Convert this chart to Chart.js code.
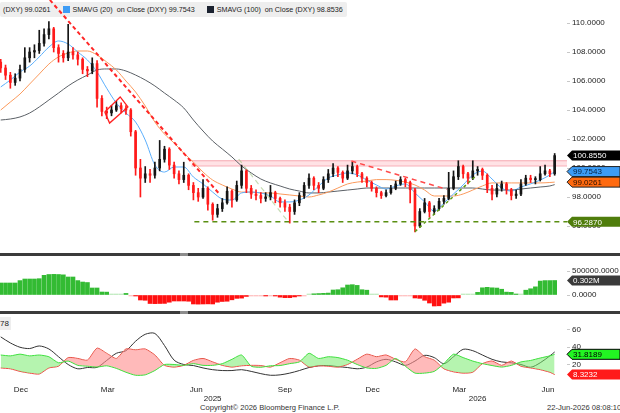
<!DOCTYPE html>
<html>
<head>
<meta charset="utf-8">
<script src="https://cdn.jsdelivr.net/npm/chart.js@4.4.1/dist/chart.umd.min.js"></script>
<style>
  html, body { margin: 0; padding: 0; background: #fff; }
  body { width: 620px; height: 413px; position: relative; overflow: hidden;
         font-family: "Liberation Sans", Arial, sans-serif; color: #222; }
  .pane { position: absolute; left: 0; width: 620px; z-index: 1; }
  canvas { display: block; }
  #legend { position: absolute; left: 0; top: 2px; height: 15px; padding: 0 4px 0 3px; background: #eeeeee;
            border-radius: 2px; font-size: 7.2px; line-height: 15px; white-space: nowrap; z-index: 0;
            display: flex; align-items: center; }
  #legend .sq { display: inline-block; width: 7px; height: 7px; margin: 0 3px 0 0; }
  #legend .gap { display: inline-block; width: 12px; }
  .sep { position: absolute; left: 0; width: 620px; height: 3px; background: #3b3b3b; z-index: 3; }
  .grip { position: absolute; left: 180px; top: 0; width: 8px; height: 3px; background: #8c8c8c; }
  #dmiLegend { position: absolute; left: 0; top: 317px; width: 11px; height: 13px; background: #eeeeee;
               font-size: 8px; line-height: 13px; z-index: 2; }
  .foot { position: absolute; top: 403px; font-size: 7.6px; line-height: 10px; white-space: nowrap; color: #333; }
</style>
</head>
<body>
<div id="legend">
  <span>(DXY) <span id="v50"></span></span>
  <span class="gap"></span><span class="sq" style="background:#3d9cf5"></span>
  <span>SMAVG (20)&nbsp; on Close (DXY) <span id="v20"></span></span>
  <span class="gap"></span><span class="sq" style="background:#1b2230"></span>
  <span>SMAVG (100)&nbsp; on Close (DXY) <span id="v100"></span></span>
</div>
<div class="pane" style="top:0;height:256px"><canvas id="price" width="620" height="256"></canvas></div>
<div class="pane" style="top:256px;height:57px"><canvas id="hist" width="620" height="57"></canvas></div>
<div class="pane" style="top:313px;height:100px"><canvas id="dmi" width="620" height="100"></canvas></div>
<div class="sep" style="top:253px"><div class="grip"></div></div>
<div class="sep" style="top:311px"><div class="grip"></div></div>
<div id="dmiLegend">78</div>
<div class="foot" style="left:200px">Copyright© 2026 Bloomberg Finance L.P.</div>
<div class="foot" style="left:547px">22-Jun-2026 08:08:10</div>

<script>
// ---- data ----
const startDate = '2024-11-22';
const candleStart = '2024-11-24';
const candleStepDays = 5;

const open = [
  107.3, 106.9, 106.4, 105.9, 106.2, 106.8, 107.6, 108.0, 108.1, 108.6,
  109.2, 109.6, 108.3, 107.9, 107.6, 108.0, 107.8, 107.5, 106.8, 106.7,
  107.2, 104.8, 103.9, 103.8, 104.0, 104.3, 104.1, 104.0, 102.5, 100.0,
  99.3, 99.6, 99.5, 100.0, 100.6, 101.3, 100.2, 99.6, 99.2, 99.5,
  98.8, 98.3, 98.0, 98.6, 97.5, 96.8, 97.2, 97.6, 98.4, 97.8,
  98.8, 99.8, 98.6, 98.2, 98.1, 97.9, 98.0, 98.3, 97.9, 97.6,
  97.3, 97.0, 97.6, 98.1, 98.8, 99.3, 98.8, 98.6, 99.2, 99.6,
  100.0, 99.7, 99.3, 99.8, 100.1, 99.6, 99.3, 99.0, 98.6, 98.3,
  98.1, 98.3, 98.6, 98.9, 99.2, 99.0, 98.5, 96.0, 97.0, 97.6,
  97.0, 97.2, 97.7, 97.9, 98.6, 99.4, 100.1, 99.6, 99.3, 99.8,
  99.9, 99.5, 98.6, 98.2, 98.6, 98.9, 98.5, 98.1, 98.2, 98.9,
  99.3, 99.2, 99.2, 99.6, 99.8, 99.6
];
const high = [
  107.5, 107.1, 106.6, 106.5, 107.1, 108.3, 108.3, 108.5, 109.5, 109.6,
  110.1, 109.7, 108.5, 108.1, 109.9, 108.3, 108.0, 107.6, 107.0, 107.6,
  107.4, 105.0, 104.2, 104.3, 104.6, 104.5, 104.3, 104.1, 102.6, 100.6,
  100.1, 99.9, 100.4, 101.9, 101.5, 101.4, 100.4, 99.8, 100.4, 99.6,
  99.0, 98.6, 99.2, 98.7, 97.6, 97.5, 97.9, 98.7, 98.5, 99.1,
  100.2, 99.9, 98.8, 98.5, 98.3, 98.3, 98.8, 98.4, 98.0, 97.8,
  97.5, 97.8, 98.3, 99.0, 99.6, 99.4, 99.0, 99.4, 99.9, 100.3,
  100.1, 99.8, 100.2, 100.4, 100.2, 99.7, 99.4, 99.1, 98.7, 98.4,
  98.5, 98.8, 99.1, 99.4, 99.3, 99.1, 98.6, 97.2, 97.9, 97.7,
  97.4, 97.9, 98.1, 99.7, 99.8, 100.5, 100.2, 99.7, 100.5, 100.1,
  100.0, 99.6, 98.8, 98.9, 99.1, 99.0, 98.6, 98.5, 99.2, 99.5,
  99.5, 99.4, 100.1, 100.2, 99.9, 101.0
];
const low = [
  106.6, 106.1, 105.5, 105.7, 106.0, 106.6, 107.3, 107.6, 107.9, 108.4,
  108.9, 108.0, 107.3, 107.3, 107.4, 107.5, 107.1, 106.5, 106.3, 106.5,
  104.2, 103.6, 103.4, 103.6, 103.9, 103.8, 103.7, 102.2, 99.5, 98.0,
  99.0, 99.0, 99.3, 99.8, 100.4, 99.9, 99.3, 98.9, 99.0, 98.5,
  97.8, 97.7, 97.9, 97.1, 96.4, 96.6, 97.0, 97.5, 97.3, 97.7,
  98.6, 98.3, 97.9, 97.8, 97.6, 97.7, 97.8, 97.6, 97.3, 97.0,
  96.2, 96.8, 97.4, 97.9, 98.6, 98.5, 98.3, 98.5, 99.0, 99.4,
  99.4, 99.0, 99.2, 99.6, 99.4, 99.0, 98.7, 98.4, 98.0, 97.9,
  98.0, 98.2, 98.5, 98.8, 98.7, 97.6, 95.6, 95.9, 96.9, 96.6,
  96.8, 97.1, 97.5, 97.8, 98.5, 99.2, 99.3, 98.9, 99.2, 99.5,
  99.2, 98.3, 97.8, 98.0, 98.4, 98.2, 97.8, 97.9, 98.1, 98.8,
  99.0, 98.9, 99.1, 99.5, 99.4, 99.5
];
const close = [
  106.9, 106.4, 105.9, 106.2, 106.8, 107.6, 108.0, 108.1, 108.6, 109.2,
  109.6, 108.3, 107.9, 107.6, 108.0, 107.8, 107.5, 106.8, 106.7, 107.2,
  104.8, 103.9, 103.8, 104.0, 104.3, 104.1, 104.0, 102.5, 100.0, 99.3,
  99.6, 99.5, 100.0, 100.6, 101.3, 100.2, 99.6, 99.2, 99.5, 98.8,
  98.3, 98.0, 98.6, 97.5, 96.8, 97.2, 97.6, 98.4, 97.8, 98.8,
  99.8, 98.6, 98.2, 98.1, 97.9, 98.0, 98.3, 97.9, 97.6, 97.3,
  97.0, 97.6, 98.1, 98.8, 99.3, 98.8, 98.6, 99.2, 99.6, 100.0,
  99.7, 99.3, 99.8, 100.1, 99.6, 99.3, 99.0, 98.6, 98.3, 98.1,
  98.3, 98.6, 98.9, 99.2, 99.0, 98.5, 96.0, 97.0, 97.6, 97.0,
  97.2, 97.7, 97.9, 98.6, 99.4, 100.1, 99.6, 99.3, 99.8, 99.9,
  99.5, 98.6, 98.2, 98.6, 98.9, 98.5, 98.1, 98.2, 98.9, 99.3,
  99.2, 99.2, 99.6, 99.8, 99.6, 100.855
];

// volume-style histogram, thousands, same dates as the candles
const histK = [
  250, 250, 250, 250, 300, 333, 333, 333, 340, 410,
  427, 430, 427, 420, 375, 375, 300, 270, 260, 146,
  146, 62, 60, 5, 5, 8, 33, -8, -15, -104,
  -110, -177, -180, -177, -175, -150, -125, -125, -125, -130,
  -187, -190, -187, -185, -187, -150, -135, -130, -100, -70,
  -65, -30, -10, -8, -10, -12, -10, -15, -45, -55,
  -55, -40, -15, -10, 5, 25, 30, 35, 40, 104,
  110, 150, 208, 215, 200, 110, 100, 10, 3, -40,
  -45, -104, -104, -8, -5, -5, -62, -70, -110, -167,
  -229, -225, -170, -150, -62, -60, 5, 5, 8, 55,
  150, 160, 150, 145, 120, 60, 55, 20, 10, 100,
  130, 170, 290, 300, 300, 302
];

// moving averages and DMI, every 10 days, last point on the last date
const lineStart = '2024-11-24';
const lineStepDays = 10;
const lastDate = '2026-06-22';

const sma20 = [
  105.59, 106.07, 106.62, 107.03, 107.66, 108.34, 108.76, 108.55, 108.0, 107.45,
  106.62, 105.5, 104.48, 103.79, 103.17, 101.93, 100.21, 99.72, 100.07, 100.07,
  99.38, 98.9, 98.34, 97.86, 97.79, 98.28, 98.34, 98.28, 98.07, 97.66,
  97.66, 97.79, 98.14, 98.76, 99.31, 99.52, 99.66, 99.52, 99.17, 98.83,
  98.55, 98.76, 98.9, 98.28, 97.66, 97.03, 97.59, 98.21, 98.83, 99.52,
  99.79, 99.24, 98.62, 98.41, 98.69, 98.9, 99.17, 99.52, 99.7543
];
const sma50 = [
  104.0, 104.55, 105.1, 105.79, 106.48, 107.17, 107.66, 107.93, 108.07, 108.07,
  107.79, 107.31, 106.76, 106.0, 105.24, 104.28, 103.17, 102.34, 101.72, 101.03,
  100.41, 99.72, 99.17, 98.83, 98.55, 98.34, 98.34, 98.28, 98.28, 98.21,
  98.14, 98.07, 98.0, 98.14, 98.34, 98.62, 98.9, 99.03, 99.1, 99.2,
  99.2, 99.15, 99.03, 98.83, 98.48, 98.07, 98.07, 98.07, 98.21, 98.48,
  98.76, 98.97, 98.97, 98.97, 98.97, 98.97, 98.97, 99.0, 99.0261
];
const sma100 = [
  103.31, 103.38, 103.52, 103.79, 104.21, 104.69, 105.17, 105.66, 106.07, 106.41,
  106.76, 106.83, 106.83, 106.69, 106.41, 106.07, 105.66, 105.17, 104.69, 104.14,
  103.31, 102.55, 101.86, 101.31, 100.76, 100.14, 99.66, 99.24, 98.97, 98.76,
  98.55, 98.41, 98.28, 98.28, 98.34, 98.41, 98.48, 98.55, 98.62, 98.62,
  98.62, 98.62, 98.62, 98.62, 98.62, 98.62, 98.62, 98.62, 98.62, 98.62,
  98.55, 98.48, 98.48, 98.48, 98.55, 98.62, 98.69, 98.76, 98.8536
];
const dmiPlus = [
  31, 30, 32, 30, 31, 29, 22, 24, 19, 18,
  17, 18.5, 15.5, 11, 7.5, 8, 13, 20, 20, 19,
  21, 19, 19, 21, 26, 31, 18, 16.8, 18.5, 18.8,
  21, 23, 33, 27, 29, 28, 25, 20, 16, 15.5,
  19, 27, 18, 10, 10, 12, 21, 32, 28, 24,
  21, 18.8, 17, 19, 23, 24.7, 27.5, 30, 31.8189
];
const dmiMinus = [
  16, 15, 12, 10, 9, 16, 18, 28, 27, 25,
  39, 33, 27, 38, 37, 38, 31, 19, 17, 19,
  24.7, 27, 23, 19, 17, 18.5, 19, 18.8, 17, 22,
  27, 25, 17, 18.5, 18, 17, 20, 26, 32, 29,
  31, 26, 23, 38, 29, 25, 15, 11.5, 10, 11,
  21, 24, 19, 24, 18, 16, 14, 11, 8.3232
];
const adx = [
  52, 45, 40, 38.5, 41.5, 38, 29, 20, 15, 16.5,
  16.7, 24.7, 33, 36, 47, 55, 56, 42, 25, 20,
  18.8, 16, 14, 13, 13, 14, 12, 9.4, 7.5, 8,
  10, 13, 16.5, 18.5, 18.8, 17.5, 16.5, 15, 17, 23,
  26, 23, 19, 24, 30.6, 28, 21, 29, 37.6, 36,
  31, 26, 23, 22, 20, 16.8, 22, 30, 34.5
];

// drawn studies
const supportLevel = 96.287;
const resistanceZone = [100.14, 100.5];
const zoneStart = '2025-06-10';
const supportStart = '2025-06-13';
const chartEnd = '2026-07-05';
const trendDown1 = [['2025-01-14', 111.59], ['2025-07-08', 98.28]];
const trendDown2 = [['2025-11-23', 100.48], ['2026-03-02', 98.53]];
const trendUp = [['2026-01-28', 95.61], ['2026-04-02', 99.5]];
const channel = [['2025-07-29', 100.62], ['2025-09-17', 96.41]];
const wedge = [['2025-03-12', 103.86], ['2025-03-28', 104.90], ['2025-04-05', 104.21],
               ['2025-03-17', 103.10], ['2025-03-12', 103.86]];

// axis ticks
const priceTicks = [96, 98, 100, 102, 104, 106, 108, 110];
const histTicksK = [0, 500];
const dmiTicks = [20, 40, 60];
const monthTickDates = ['2024-12-15', '2025-03-15', '2025-06-15', '2025-09-15',
                        '2025-12-15', '2026-03-15', '2026-06-15'];
const monthTickLabels = ['Dec', 'Mar', 'Jun', 'Sep', 'Dec', 'Mar', 'Jun'];
const yearTickDates = ['2025-07-02', '2026-04-03'];
const yearTickLabels = ['2025', '2026'];

// ---- helpers ----
const DAY = 86400000;
function dayOf(s) { return (Date.parse(s) - Date.parse(startDate)) / DAY; }
const candleDays = close.map((_, i) => dayOf(candleStart) + candleStepDays * i);
const lineDays = sma20.map((_, j) => j === sma20.length - 1 ? dayOf(lastDate) : dayOf(lineStart) + lineStepDays * j);
function pts(pairs) { return pairs.map(p => ({ x: dayOf(p[0]), y: p[1] })); }
function series(vals) { return vals.map((v, j) => ({ x: lineDays[j], y: v })); }
const last = a => a[a.length - 1];

const xMin = 1.25, xMax = 589.8;

Chart.defaults.font.family = '"Liberation Sans", Arial, sans-serif';
Chart.defaults.font.size = 8;
Chart.defaults.color = '#222';
Chart.defaults.animation = false;

function drawTag(ctx, y, t) {
  const x0 = 567, x1 = 620, h = 10;
  ctx.save();
  ctx.beginPath();
  ctx.moveTo(x0, y);
  ctx.lineTo(x0 + 5, y - h / 2);
  ctx.lineTo(x1, y - h / 2);
  ctx.lineTo(x1, y + h / 2);
  ctx.lineTo(x0 + 5, y + h / 2);
  ctx.closePath();
  ctx.fillStyle = t.fill;
  ctx.fill();
  if (t.stroke) { ctx.strokeStyle = t.stroke; ctx.lineWidth = 1; ctx.stroke(); }
  ctx.fillStyle = t.color;
  ctx.font = '8px "Liberation Sans", Arial, sans-serif';
  ctx.textBaseline = 'middle';
  ctx.fillText(t.text, x0 + 6, y + 0.5);
  ctx.restore();
}
const tagPlugin = {
  id: 'tags',
  afterDraw(chart, args, opts) {
    const y = chart.scales.y;
    (opts.items || []).forEach(t => drawTag(chart.ctx, y.getPixelForValue(t.value), t));
  }
};

function rightAxis(min, max, tickValues, fmt) {
  return {
    position: 'right', min: min, max: max,
    afterFit: s => { s.width = 53; s.paddingTop = 0; s.paddingBottom = 0; },
    afterBuildTicks: s => { s.ticks = tickValues.map(v => ({ value: v })); },
    grid: { drawOnChartArea: false, drawTicks: true, tickLength: 3, color: '#c8c8c8' },
    border: { display: false },
    ticks: { padding: 2, callback: fmt, autoSkip: false }
  };
}
const hiddenX = { type: 'linear', min: xMin, max: xMax, offset: false, display: false };

function dashed(pairs, color, width, dash, order) {
  return { type: 'line', data: pts(pairs), borderColor: color, borderWidth: width,
           borderDash: dash, pointRadius: 0, order: order };
}
function maLine(vals, color) {
  return { type: 'line', data: series(vals), borderColor: color, borderWidth: 1,
           pointRadius: 0, cubicInterpolationMode: 'monotone', order: 3 };
}

document.getElementById('v50').textContent = last(sma50).toFixed(4);
document.getElementById('v20').textContent = last(sma20).toFixed(4);
document.getElementById('v100').textContent = last(sma100).toFixed(4);

// ---- price panel ----
const candleColor = close.map((c, i) => c >= open[i] ? '#151515' : '#ff1a1a');
const downLine = dashed(trendDown1, '#ff2626', 2, [4, 3], 0);
downLine.clip = { left: 0, top: 18, right: 0, bottom: 0 };   // runs up past the legend like the original

new Chart(document.getElementById('price'), {
  type: 'bar',
  data: {
    datasets: [
      downLine,
      dashed(trendDown2, '#ff4a4a', 1.5, [5, 4], 0),
      dashed(wedge, '#ff2020', 1.3, [], 0),
      dashed(trendUp, '#5f9a18', 1.5, [3, 3], 0),
      dashed(channel, 'rgba(160,195,130,0.6)', 1.2, [5, 4], 0),
      dashed([[supportStart, supportLevel], [chartEnd, supportLevel]], '#5a8f12', 1.5, [5, 4], 0),
      { type: 'bar', data: close.map((c, i) => ({ x: candleDays[i], y: [open[i], c] })),
        backgroundColor: candleColor, barThickness: 2, minBarLength: 1, grouped: false, order: 1 },
      { type: 'bar', data: close.map((c, i) => ({ x: candleDays[i], y: [low[i], high[i]] })),
        backgroundColor: candleColor, barThickness: 1, grouped: false, order: 2 },
      maLine(sma20, '#5aaefc'),
      maLine(sma50, '#fb9a5c'),
      maLine(sma100, '#5b6066'),
      { type: 'line', data: pts([[zoneStart, resistanceZone[1]], [chartEnd, resistanceZone[1]]]),
        borderColor: 'rgba(245,160,170,0.9)', borderWidth: 1, pointRadius: 0,
        fill: '+1', backgroundColor: 'rgba(255,190,198,0.45)', order: 6 },
      { type: 'line', data: pts([[zoneStart, resistanceZone[0]], [chartEnd, resistanceZone[0]]]),
        borderColor: 'rgba(245,160,170,0.9)', borderWidth: 1, pointRadius: 0, order: 6 }
    ]
  },
  options: {
    responsive: false,
    layout: { padding: { top: 18, bottom: 3, left: 0, right: 0 } },
    plugins: {
      legend: { display: false }, tooltip: { enabled: false },
      tags: { items: [
        { value: last(close), text: last(close).toFixed(4), fill: '#000000', color: '#ffffff' },
        { value: last(sma20), text: last(sma20).toFixed(4), fill: '#3d9cf5', color: '#04213f', stroke: '#222' },
        { value: last(sma50), text: last(sma50).toFixed(4), fill: '#ff6a10', color: '#2a1000', stroke: '#222' },
        { value: supportLevel, text: supportLevel.toFixed(4), fill: '#4f7d0c', color: '#ffffff' }
      ] }
    },
    scales: {
      x: hiddenX,
      y: rightAxis(94.138, 110.345, priceTicks, v => v.toFixed(4))
    }
  },
  plugins: [tagPlugin]
});

// ---- histogram panel ----
new Chart(document.getElementById('hist'), {
  type: 'bar',
  data: {
    datasets: [{
      data: histK.map((v, i) => ({ x: candleDays[i], y: v })),
      backgroundColor: histK.map(v => v >= 0 ? (v < 12 ? '#b8e8b8' : '#33bb33') : (v > -12 ? '#ffb8b8' : '#ff1010')),
      barThickness: 4, minBarLength: 1
    }]
  },
  options: {
    responsive: false,
    layout: { padding: 0 },
    plugins: {
      legend: { display: false }, tooltip: { enabled: false },
      tags: { items: [
        { value: last(histK), text: (last(histK) / 1000).toFixed(3) + 'M', fill: '#3a3a3a', color: '#ffffff' }
      ] }
    },
    scales: {
      x: hiddenX,
      y: rightAxis(-375, 812.5, histTicksK, v => (v * 1000).toFixed(4))
    }
  },
  plugins: [tagPlugin]
});

// ---- DMI panel ----
new Chart(document.getElementById('dmi'), {
  type: 'line',
  data: {
    datasets: [
      { data: series(dmiPlus), borderColor: '#3ee03e', borderWidth: 1, pointRadius: 0, tension: 0.2,
        fill: { target: '+1', above: 'rgba(120,235,110,0.55)', below: 'rgba(255,140,140,0.6)' } },
      { data: series(dmiMinus), borderColor: '#f23a3a', borderWidth: 1, pointRadius: 0, tension: 0.2 },
      { data: series(adx), borderColor: '#333333', borderWidth: 1, pointRadius: 0, tension: 0.3 }
    ]
  },
  options: {
    responsive: false,
    layout: { padding: { top: 1, bottom: 10, left: 0, right: 0 } },
    plugins: {
      legend: { display: false }, tooltip: { enabled: false },
      tags: { items: [
        { value: last(dmiPlus), text: last(dmiPlus).toFixed(4), fill: '#22f522', color: '#000000', stroke: '#000' },
        { value: last(dmiMinus), text: last(dmiMinus).toFixed(4), fill: '#ff1a1a', color: '#ffffff' }
      ] }
    },
    scales: {
      x: {
        type: 'linear', min: xMin, max: xMax, offset: false, position: 'bottom', weight: 0,
        grid: { display: false, drawTicks: false }, border: { display: false },
        afterFit: s => { s.height = 10; s.paddingLeft = 0; s.paddingRight = 0; },
        afterBuildTicks: s => { s.ticks = monthTickDates.map(d => ({ value: dayOf(d) })); },
        ticks: { padding: 2, autoSkip: false, maxRotation: 0, minRotation: 0,
                 callback: (v, i) => monthTickLabels[i] }
      },
      x2: {
        type: 'linear', min: xMin, max: xMax, offset: false, position: 'bottom', weight: 1,
        grid: { display: false, drawTicks: false }, border: { display: false },
        afterFit: s => { s.height = 10; s.paddingLeft = 0; s.paddingRight = 0; },
        afterBuildTicks: s => { s.ticks = yearTickDates.map(d => ({ value: dayOf(d) })); },
        ticks: { padding: 1, autoSkip: false, maxRotation: 0, minRotation: 0,
                 callback: (v, i) => yearTickLabels[i] }
      },
      y: rightAxis(-1.45, 78.55, dmiTicks, v => String(v))
    }
  },
  plugins: [tagPlugin]
});
</script>
</body>
</html>
